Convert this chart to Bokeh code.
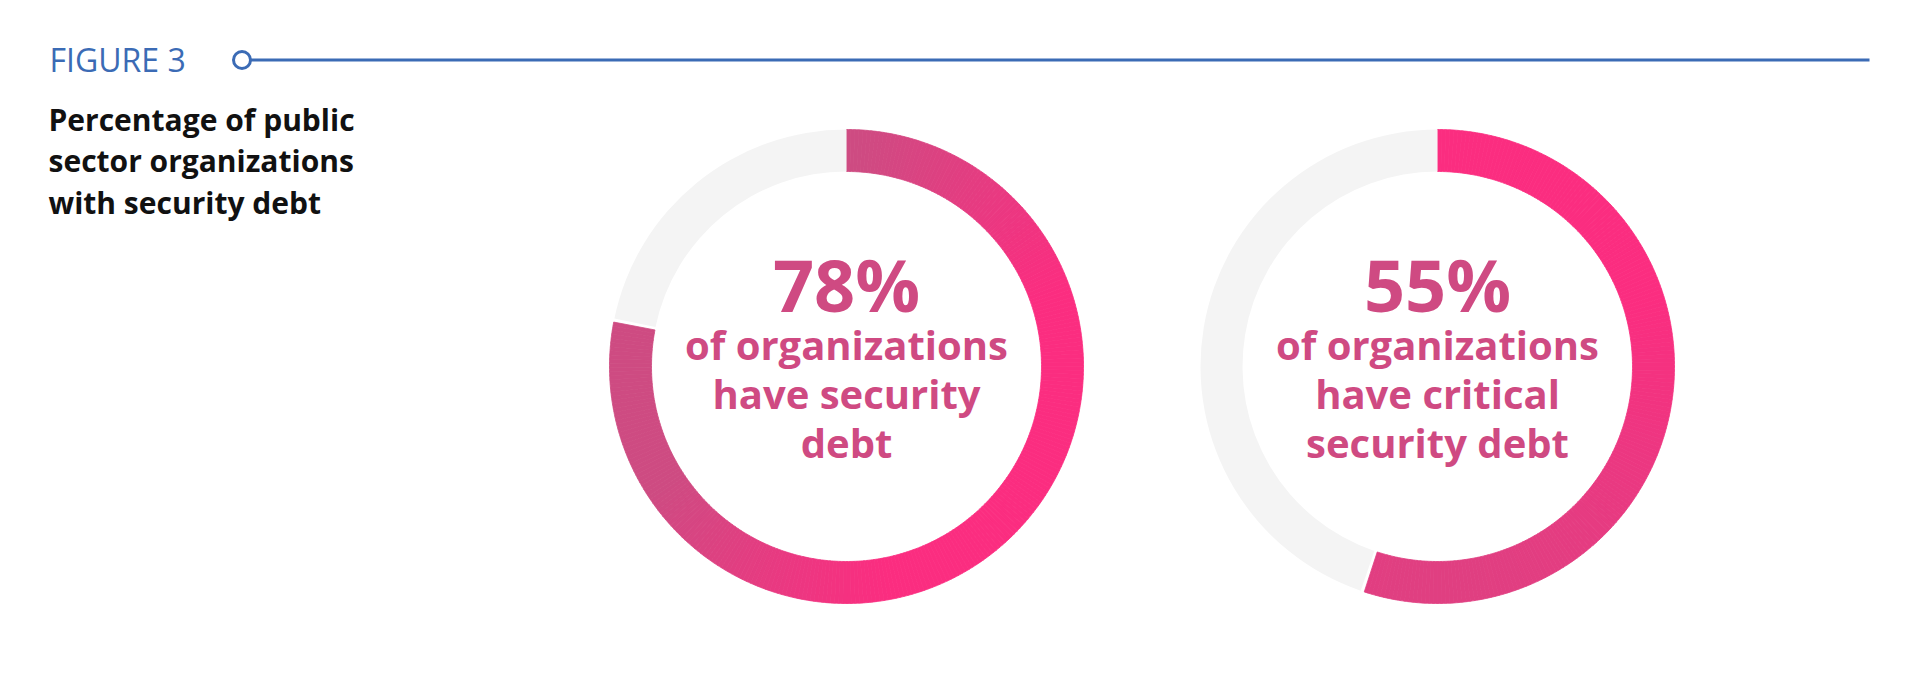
import numpy as np
from bokeh.plotting import figure
from bokeh.models import Range1d, ColumnDataSource
from bokeh.core.properties import value
from bokeh.embed import file_html
from bokeh.resources import INLINE

# ---------------- data ----------------
figure_label = "FIGURE 3"
title_lines = ["Percentage of public", "sector organizations", "with security debt"]
percentages = [78, 55]
big_labels = ["78%", "55%"]
caption_lines = [
    ["of organizations", "have security", "debt"],
    ["of organizations", "have critical", "security debt"],
]

# ---------------- layout / style ----------------
W, H = 1906, 664
def Y(py):            # page pixel row -> data y (y axis points up)
    return H - py

def TY(py, fs):       # desired text baseline row -> anchor (compensates text placement)
    return Y(py - 0.38 * fs)

BLUE = "#3b6bb5"
TEXT_PINK = "#cf4a82"
GREY = "#f4f4f4"
MUTED = np.array([0xCE, 0x4B, 0x82])
HOT = np.array([0xFB, 0x2D, 0x80])
FONT = value("Open Sans")

centers_x = [846, 1437]
center_y = Y(366)
R_OUT, R_IN = 237, 195
GAP = np.deg2rad(0.9)

def hexc(rgb):
    return "#%02x%02x%02x" % tuple(int(round(c)) for c in rgb)

def grad_t(k, ux, uy):
    """0 = muted, 1 = hot"""
    if k == 0:
        proj = 0.866 * ux - 0.5 * uy
        return float(np.clip((proj + 0.45) / 1.1, 0, 1))
    else:
        t_muted = np.clip((0.3 - uy) / 1.3, 0, 1) * 0.6
        return float(1 - t_muted)

p = figure(width=W, height=H, x_range=Range1d(0, W), y_range=Range1d(0, H),
           output_backend="svg", toolbar_location=None,
           x_axis_location=None, y_axis_location=None, min_border=0)
p.outline_line_color = None
p.xgrid.visible = False
p.ygrid.visible = False
p.background_fill_color = "white"
p.border_fill_color = "white"

# ---- header: FIGURE 3, marker and rule ----
p.segment(x0=[250], y0=[Y(59.5)], x1=[1869], y1=[Y(59.5)], line_color=BLUE, line_width=3)
p.scatter(x=[241.5], y=[Y(59.5)], marker="circle", size=17, fill_color="white",
          line_color=BLUE, line_width=3)
p.text(x=[49], y=[TY(71, 32)], text=[figure_label], text_font=FONT, text_font_size="32px",
       text_color=BLUE, text_align="left", text_baseline="alphabetic")

# ---- title ----
title_base = [130, 171.5, 213]
p.text(x=[48] * len(title_lines), y=[TY(b, 30) for b in title_base], text=title_lines,
       text_font=FONT, text_font_size="30px", text_font_style="bold", text_color="#111111",
       text_align="left", text_baseline="alphabetic")

# ---- donuts ----
for k, pct in enumerate(percentages):
    cx = centers_x[k]
    sweep = 2 * np.pi * pct / 100.0
    n = max(2, int(np.ceil(np.rad2deg(sweep))))
    edges = np.linspace(0, sweep, n + 1)      # clockwise from 12 o'clock
    starts, ends, cols = [], [], []
    for i in range(n):
        a0, a1 = edges[i], edges[i + 1]
        am = 0.5 * (a0 + a1)
        ux, uy = np.sin(am), np.cos(am)
        t = grad_t(k, ux, uy)
        cols.append(hexc(MUTED + (HOT - MUTED) * t))
        starts.append(np.pi / 2 - a1)
        ends.append(np.pi / 2 - a0)
    src = ColumnDataSource(dict(x=[cx] * n, y=[center_y] * n, s=starts, e=ends, c=cols))
    p.annular_wedge(x="x", y="y", inner_radius=R_IN, outer_radius=R_OUT,
                    start_angle="s", end_angle="e", fill_color="c", line_color="c",
                    line_width=0.8, source=src)
    # remaining share in grey
    p.annular_wedge(x=[cx], y=[center_y], inner_radius=R_IN, outer_radius=R_OUT,
                    start_angle=[np.pi / 2 - 2 * np.pi], end_angle=[np.pi / 2 - sweep - GAP],
                    fill_color=GREY, line_color=None)

    # centre texts
    p.text(x=[cx], y=[TY(311, 72)], text=[big_labels[k]], text_font=FONT, text_font_size="72px",
           text_font_style="bold", text_color=TEXT_PINK, text_align="center",
           text_baseline="alphabetic")
    lines = caption_lines[k]
    p.text(x=[cx] * len(lines), y=[TY(b, 40) for b in [359, 408, 457]], text=lines,
           text_font=FONT, text_font_size="40px", text_font_style="bold",
           text_color=TEXT_PINK, text_align="center", text_baseline="alphabetic")

open("out.html", "w").write(file_html(p, INLINE))
